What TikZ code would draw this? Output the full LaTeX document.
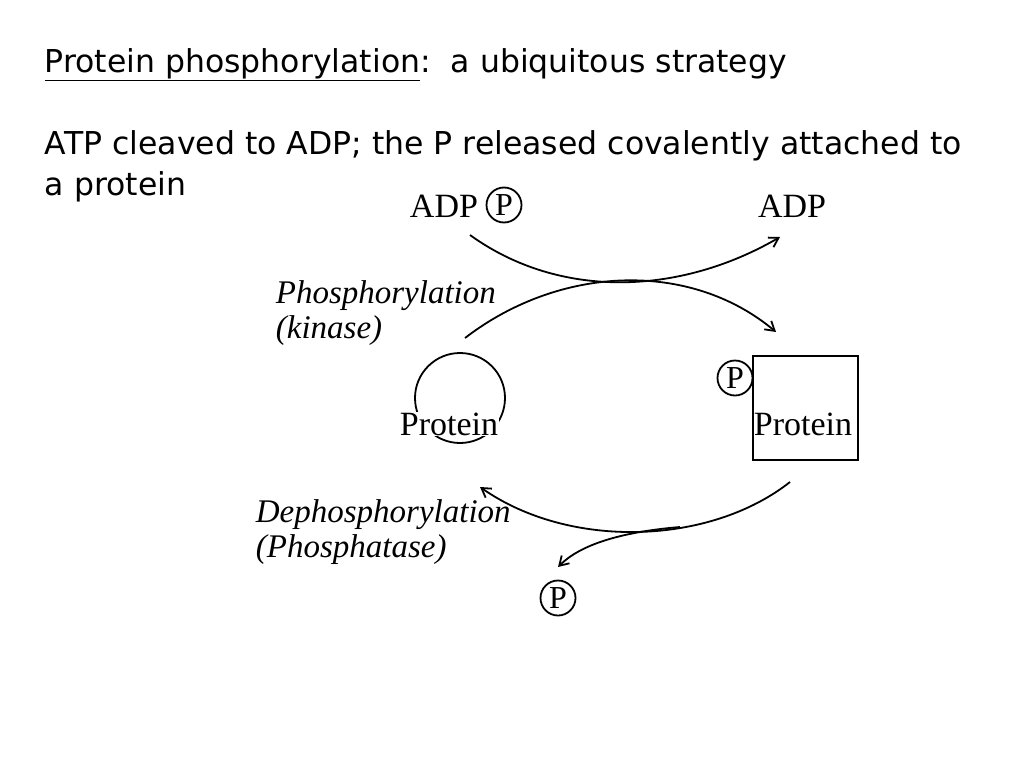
\documentclass[tikz,border=0pt]{standalone}
\usepackage{fontspec}
\setmainfont{Liberation Serif}
\newfontfamily\headfont{DejaVu Sans}
\usetikzlibrary{arrows.meta}
\begin{document}
\begin{tikzpicture}[x=1pt,y=-1pt,line width=1.8pt,
  head/.style={anchor=base west,font=\headfont\fontsize{31.5}{36}\selectfont,inner sep=0},
  lab/.style={font=\fontsize{34}{36}\selectfont,inner sep=0},
  ital/.style={font=\itshape\fontsize{33}{35}\selectfont,align=left,inner sep=0,anchor=west},
  cp/.style={circle,draw,inner sep=0,minimum size=35pt,font=\fontsize{32}{34}\selectfont},
  arr/.style={-{Straight Barb[length=9pt,width=11pt]}}]
\useasboundingbox (0,0) rectangle (1024,768);
\node[head] (t1) at (44,72) {\underline{Protein phosphorylation}:\ \ a ubiquitous strategy};
\node[head] (t2) at (44,154) {ATP cleaved to ADP; the P released covalently attached to};
\node[head] (t3) at (44,195) {a protein};
\node[lab] (adp1) at (444,206) {ADP};
\node[cp] (p1) at (504,205) {P};
\node[lab] (adp2) at (792,206) {ADP};
\coordinate (a1) at (470,235); \coordinate (a2) at (780,237);
\draw[arr] (a1) .. controls (560,300) and (680,295) .. (a2);
\coordinate (b1) at (465,338); \coordinate (b2) at (776,332);
\draw[arr] (b1) .. controls (560,265) and (690,260) .. (b2);
\node[ital] (ph) at (275,313) {Phosphorylation\\(kinase)};
\node[circle,draw,minimum size=90pt] (c) at (460,398) {};
\node[lab,fill=white,inner sep=1pt] (pr1) at (449,424) {Protein};
\node[draw,minimum width=105pt,minimum height=104pt] (sq) at (805.5,408) {};
\node[lab] (pr2) at (803,424) {Protein};
\node[cp,fill=white] (p2) at (735,378) {P};
\coordinate (d1) at (790,482); \coordinate (d2) at (480,487);
\draw[arr] (d1) .. controls (710,545) and (570,550) .. (d2);
\coordinate (e1) at (680,527); \coordinate (e2) at (558,567);
\draw[arr] (e1) .. controls (620,532) and (580,545) .. (e2);
\node[ital] (dp) at (255,532) {Dephosphorylation\\(Phosphatase)};
\node[cp] (p3) at (558,598) {P};
\end{tikzpicture}
\end{document}
